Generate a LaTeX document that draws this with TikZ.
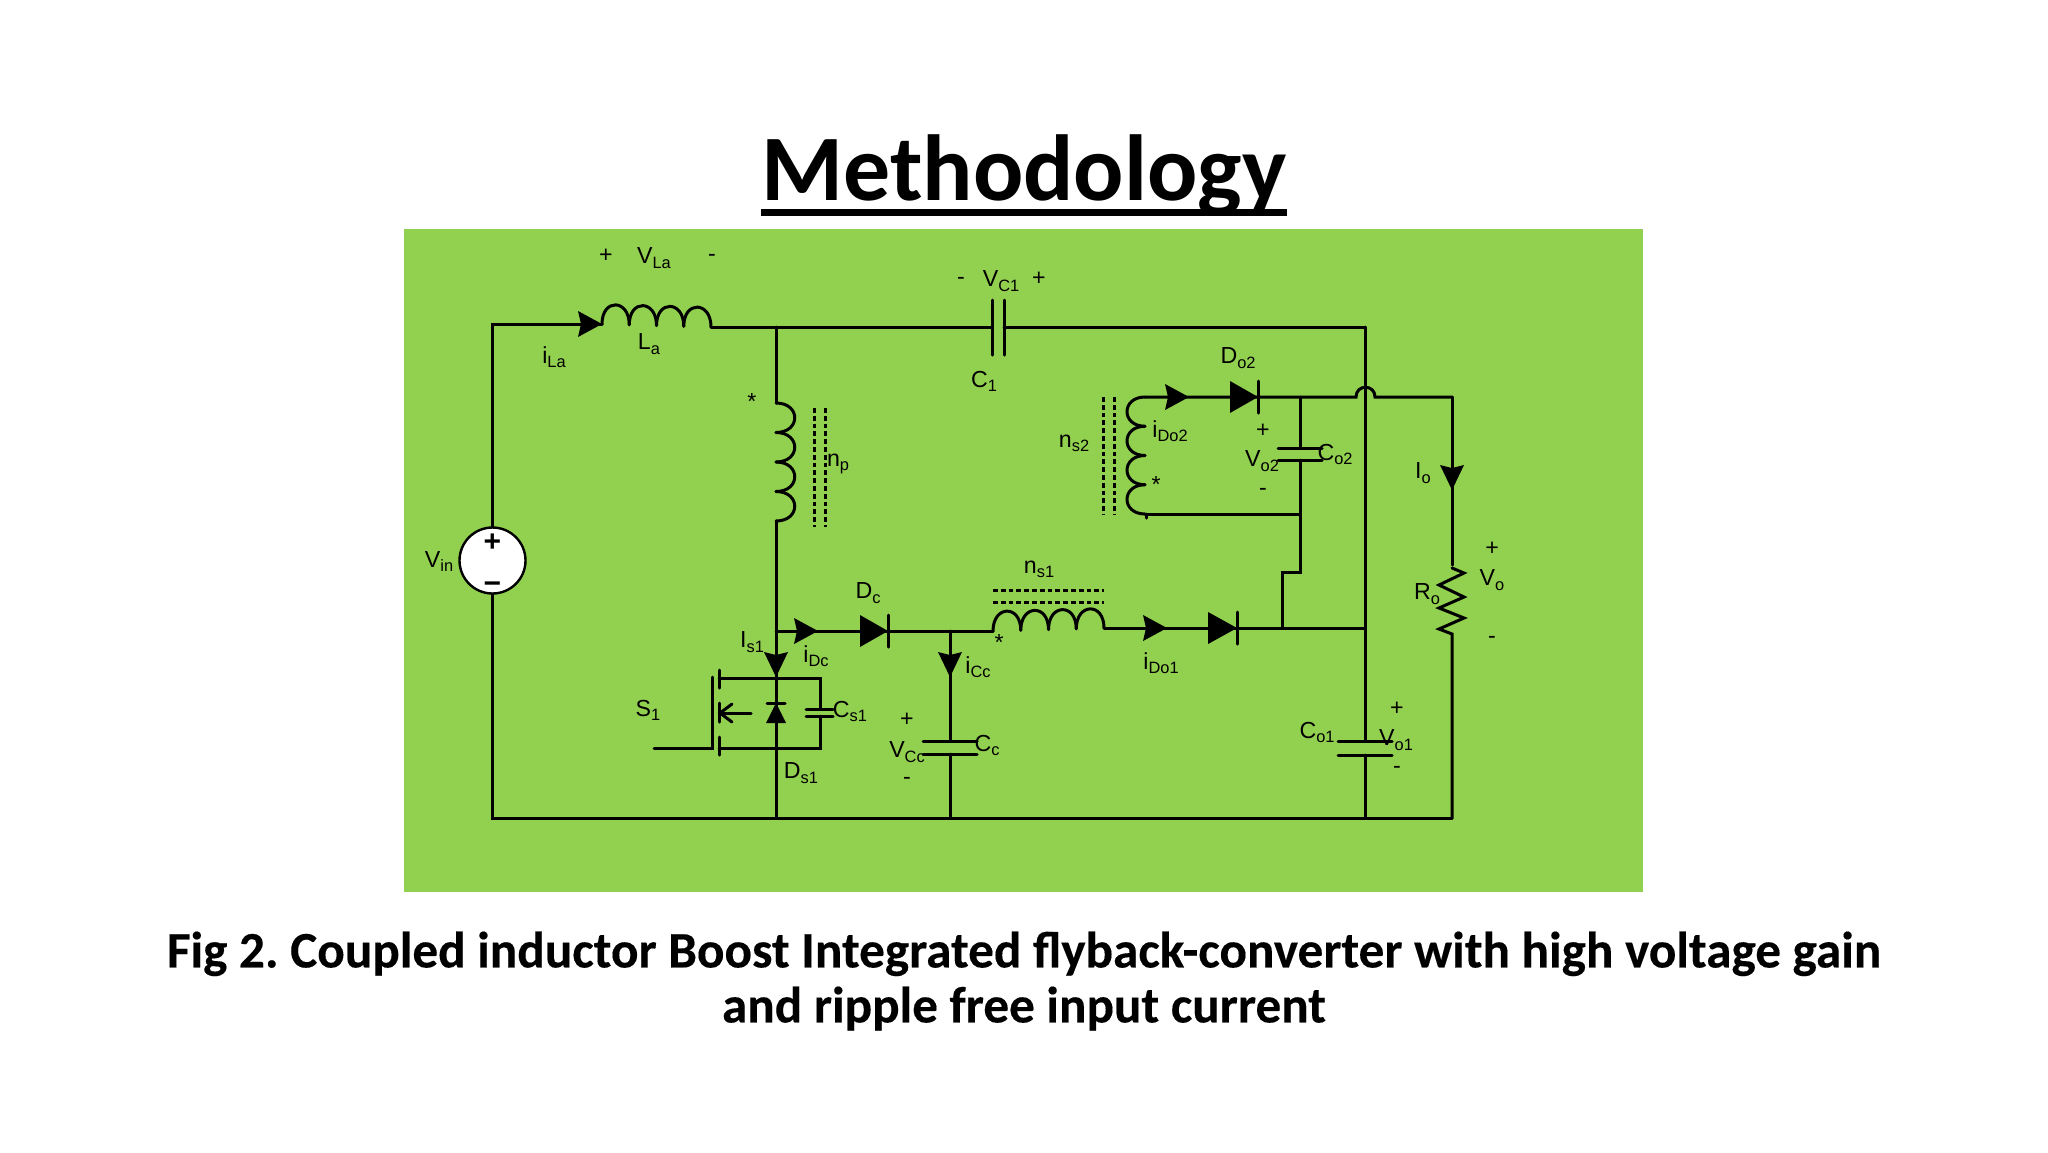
\documentclass[tikz,border=0pt]{standalone}
\usepackage{fontspec}
\setmainfont{Liberation Sans}
\newfontfamily\headfont{Carlito}
\newfontfamily\capfont[BoldFeatures={FakeBold=0.25}]{Carlito}
\frenchspacing
\definecolor{panelgreen}{HTML}{92D050}
\newcommand{\subtxt}[1]{\raisebox{-0.35ex}{\fontsize{8.2}{9}\selectfont #1}}
% filled current arrows, tip at #1,#2
\newcommand{\arrowright}[2]{\fill (#1,#2) -- ++(-24,-13) -- ++(3,13) -- ++(-3,13) -- cycle;}
\newcommand{\arrowdown}[2]{\fill (#1,#2) -- ++(-12,-25) -- ++(12,3) -- ++(12,-3) -- cycle;}
% diode pointing right, cathode bar at #1,#2
\newcommand{\dioderight}[3]{\fill (#1,#2) -- ++(-#3,-16) -- ++(0,32) -- cycle;
	\draw[wire] (#1,#2-16) -- (#1,#2+16);}
% coil with four turns
\newcommand{\coilright}[4]{\foreach \i in {0,1,2,3}
	\draw[wire] (#1+\i*#3,#2+\i*#4) .. controls +(0,-26) and +(0,-26) .. +(#3,#4);}
\newcommand{\coildown}[4]{\foreach \i in {0,1,2,3}
	\draw[wire] (#1,#2+\i*#3) .. controls +(#4,0) and +(#4,0) .. +(0,#3);}
\tikzset{
wire/.style={line width=1.5pt, line cap=round, line join=miter},
core/.style={line width=1.5pt, dash pattern=on 2.4pt off 1.5pt},
lbl/.style={font=\fontsize{11.6}{14}\selectfont, inner sep=0pt, yshift=-0.6pt},
sign/.style={font=\bfseries\fontsize{15}{15}\selectfont, inner sep=0pt},
}
\begin{document}
\begin{tikzpicture}[x=0.5pt, y=-0.5pt]
\useasboundingbox (0, 0) rectangle (2048, 1152);
\fill[white] (0, 0) rectangle (2048, 1152);
\fill[panelgreen] (404, 229) rectangle (1643, 892);
% headings
\draw (1024, 200) node[anchor=base, font=\headfont\bfseries\fontsize{46.9}{56}\selectfont, inner sep=0pt] (title) {Methodology};
\draw[line width=3.2pt] (title.base west) ++(0, 12.5) coordinate (ulineA) -- (ulineA -| title.base east);
\draw (1024, 981) node[align=center, font=\capfont\bfseries\fontsize{25.6}{27.5}\selectfont, inner sep=0pt] (caption)
	{Fig 2. Coupled inductor Boost Integrated flyback-converter with high voltage gain\\and ripple free input current};
% source and top rail
\draw (492.5, 560.5) node[circle, draw, line width=1.2pt, fill=white, minimum size=33pt, inner sep=0pt] (vin) {};
\draw (492.5, 543) node[sign] (vinplus) {+};
\draw (492.5, 588) node[sign] (vinminus) {−};
\coordinate (laL) at (602, 324);
\coordinate (laR) at (711, 327);
\coordinate (npT) at (776, 403);
\coordinate (npB) at (776, 521);
\coordinate (jTop) at (776, 327);
\coordinate (c1L) at (992, 327);
\coordinate (c1R) at (1004, 327);
\coordinate (jRight) at (1365, 327);
\coordinate (jBotL) at (492.5, 818);
\coordinate (jSw) at (776, 818);
\coordinate (jCc) at (950, 818);
\coordinate (jCo1) at (1365, 818);
\coordinate (jBotR) at (1452, 818);
\draw[wire] (vin.north) |- (laL);
\draw[wire] (vin.south) -- (jBotL) -- (jBotR);
\draw[wire] (laR) -- (c1L);
\draw[wire] (c1R) -- (jRight);
\draw[wire] (c1L) ++(0, -27) -- ++(0, 55);
\draw[wire] (c1R) ++(0, -27) -- ++(0, 55);
\arrowright{602}{324}
\coilright{602}{324}{27.25}{0.75}
\coildown{776}{403}{29.5}{25}
\draw[wire] (jTop) -- (npT);
\draw[core] (814, 408) -- (814, 527);
\draw[core] (825, 408) -- (825, 527);
% switch leg
\coordinate (jMid) at (776, 631);
\coordinate (drain) at (776, 678);
\coordinate (source) at (776, 748);
\coordinate (dsT) at (776, 703);
\draw[wire] (npB) -- (jSw);
\arrowdown{776}{677}
\draw[wire] (drain) -- (820, 678) -- (820, 709);
\draw[wire] (source) -- (820, 748) -- (820, 716);
\draw[wire] (806, 709) -- (833, 709);
\draw[wire] (806, 716) -- (833, 716);
\draw[wire] (drain) -- (719, 678);
\draw[wire] (source) -- (719, 748);
\draw[wire] (719, 670) -- (719, 688);
\draw[wire] (719, 703) -- (719, 722);
\draw[wire] (719, 737) -- (719, 755);
\draw[wire] (712, 677) -- (712, 748) -- (654, 748);
\draw[wire] (751, 713) -- (720, 713);
\draw[wire] (732, 704) -- (720, 713) -- (732, 722);
\fill (dsT) -- ++(-10, 20) -- ++(20, 0) -- cycle;
\draw[wire] (dsT) ++(-9, 0) -- ++(18, 0);
% middle branch
\coordinate (jCcT) at (950, 631);
\coordinate (s1L) at (993, 631);
\coordinate (s1R) at (1104, 628);
\coordinate (jStep) at (1282, 628);
\coordinate (jOut) at (1365, 628);
\draw[wire] (jMid) -- (s1L);
\arrowright{818}{631}
\dioderight{888}{631}{28}
\coilright{993}{631}{27.75}{-0.75}
\draw[core] (993, 590) -- (1104, 590);
\draw[core] (993, 602) -- (1104, 602);
\draw[wire] (s1R) -- (jOut);
\arrowright{1167}{628}
\dioderight{1237}{628}{29}
\draw[wire] (jCcT) -- (950, 741);
\arrowdown{950}{677}
\draw[wire] (923, 741) -- (977, 741);
\draw[wire] (923, 754) -- (977, 754);
\draw[wire] (950, 754) -- (jCc);
% secondary winding
\coordinate (s2T) at (1145, 397);
\coordinate (s2B) at (1145, 514);
\coordinate (hopL) at (1356, 397);
\coordinate (hopR) at (1375, 397);
\coordinate (jCo2) at (1300, 397);
\coordinate (jS2B) at (1300, 514);
\coordinate (outR) at (1452, 397);
\coildown{1145}{397}{29.25}{-24}
\draw[core] (1103, 397) -- (1103, 515);
\draw[core] (1114, 397) -- (1114, 515);
\draw[wire] (s2T) -- (hopL) .. controls +(0, -13) and +(0, -13) .. (hopR) -- (outR);
\arrowright{1189}{397}
\dioderight{1258}{397}{28}
\draw[wire] (jCo2) -- (1300, 448);
\draw[wire] (1278, 448) -- (1322, 448);
\draw[wire] (1278, 460) -- (1322, 460);
\draw[wire] (1300, 460) -- (1300, 572) -- (1282, 572) -- (jStep);
\draw[wire] (s2B) -- (jS2B);
\draw[wire] (1146, 514) -- (1146, 518);
% output side
\draw[wire] (jRight) -- (1365, 741);
\draw[wire] (1338, 741) -- (1392, 741);
\draw[wire] (1338, 755) -- (1392, 755);
\draw[wire] (1365, 755) -- (jCo1);
\draw[wire] (outR) -- (1452, 565);
\arrowdown{1452}{490}
\draw[wire] (1452, 568) -- (1464, 573) -- (1439, 585) -- (1464, 597) -- (1439, 608) -- (1464, 618) -- (1439, 629) -- (1452, 634) -- (jBotR);
% labels
\draw (439, 560) node[lbl] (lVin) {V\subtxt{in}};
\draw (606, 255) node[lbl] (lLaP) {+};
\draw (654, 257) node[lbl] (lVLa) {V\subtxt{La}};
\draw (712, 257) node[lbl] (lLaM) {-};
\draw (554, 356) node[lbl] (liLa) {i\subtxt{La}};
\draw (649, 343) node[lbl] (lLa) {L\subtxt{a}};
\draw (961, 280) node[lbl] (lC1M) {-};
\draw (1001, 280) node[lbl] (lVC1) {V\subtxt{C1}};
\draw (1039, 278) node[lbl] (lC1P) {+};
\draw (984, 380) node[lbl] (lC1) {C\subtxt{1}};
\draw (752, 400) node[lbl] (lStarP) {*};
\draw (838, 463) node[lbl] (lNp) {n\subtxt{p}};
\draw (1238, 357) node[lbl] (lDo2) {D\subtxt{o2}};
\draw (1170, 430) node[lbl] (liDo2) {i\subtxt{Do2}};
\draw (1074, 442) node[lbl] (lNs2) {n\subtxt{s2}};
\draw (1156, 483) node[lbl] (lStarS) {*};
\draw (1263, 430) node[lbl] (lVo2P) {+};
\draw (1262, 460) node[lbl] (lVo2) {V\subtxt{o2}};
\draw (1263, 491) node[lbl] (lVo2M) {-};
\draw (1335, 453) node[lbl] (lCo2) {C\subtxt{o2}};
\draw (1423, 472) node[lbl] (lIo) {I\subtxt{o}};
\draw (1492, 548) node[lbl] (lVoP) {+};
\draw (1492, 579) node[lbl] (lVo) {V\subtxt{o}};
\draw (1492, 639) node[lbl] (lVoM) {-};
\draw (1427, 593) node[lbl] (lRo) {R\subtxt{o}};
\draw (1039, 568) node[lbl] (lNs1) {n\subtxt{s1}};
\draw (999, 641) node[lbl] (lStarT) {*};
\draw (868, 592) node[lbl] (lDc) {D\subtxt{c}};
\draw (752, 641) node[lbl] (lIs1) {I\subtxt{s1}};
\draw (816, 655) node[lbl] (liDc) {i\subtxt{Dc}};
\draw (978, 666) node[lbl] (liCc) {i\subtxt{Cc}};
\draw (1161, 662) node[lbl] (liDo1) {i\subtxt{Do1}};
\draw (648, 709) node[lbl] (lS1) {S\subtxt{1}};
\draw (850, 710) node[lbl] (lCs1) {C\subtxt{s1}};
\draw (801, 772) node[lbl] (lDs1) {D\subtxt{s1}};
\draw (907, 719) node[lbl] (lVCcP) {+};
\draw (907, 751) node[lbl] (lVCc) {V\subtxt{Cc}};
\draw (907, 780) node[lbl] (lVCcM) {-};
\draw (987, 744) node[lbl] (lCc) {C\subtxt{c}};
\draw (1317, 731) node[lbl] (lCo1) {C\subtxt{o1}};
\draw (1397, 708) node[lbl] (lVo1P) {+};
\draw (1396, 739) node[lbl] (lVo1) {V\subtxt{o1}};
\draw (1397, 769) node[lbl] (lVo1M) {-};
\end{tikzpicture}
\end{document}
